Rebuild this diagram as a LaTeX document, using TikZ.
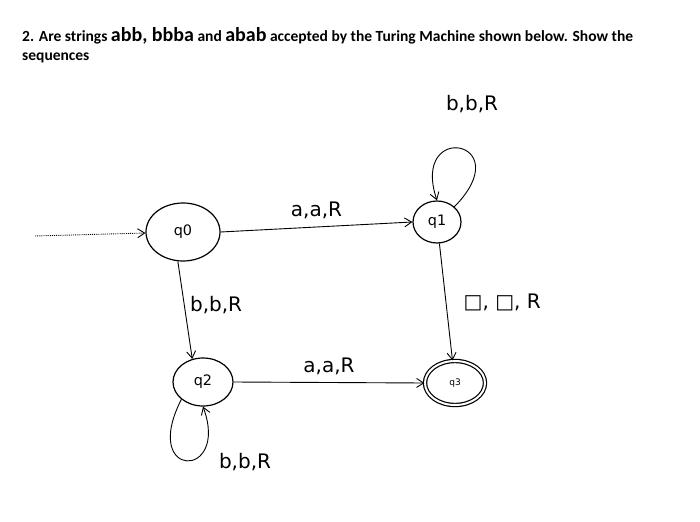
\documentclass[tikz,border=0pt]{standalone}
\usepackage{fontspec}
\setmainfont{Carlito}
\newfontfamily\hand{DejaVu Sans}
\usetikzlibrary{arrows.meta,shapes.geometric}
\begin{document}
\begin{tikzpicture}[x=1pt,y=-1pt,
  st/.style={draw,ellipse,line width=1.2pt,font=\hand\Large},
  ed/.style={line width=0.9pt,-{Straight Barb[length=7pt,width=9pt]}},
  lb/.style={font=\hand\fontsize{20}{22}\selectfont}]
\useasboundingbox (0,0) rectangle (700,521);
\node[anchor=west,font=\bfseries\fontsize{15.5}{17}\selectfont,inner sep=0] (t1) at (22,36) {2. Are strings {\fontsize{20}{21}\selectfont abb, bbba} and {\fontsize{20}{21}\selectfont abab} accepted by the Turing Machine shown below. Show the};
\node[anchor=west,font=\bfseries\fontsize{15.5}{17}\selectfont,inner sep=0] (t2) at (22,58) {sequences};
\node[st,minimum width=74pt,minimum height=58pt] (q0) at (183,232) {q0};
\node[st,minimum width=48pt,minimum height=42pt] (q1) at (437,222) {q1};
\node[st,minimum width=60pt,minimum height=48pt] (q2) at (203,382) {q2};
\node[st,minimum width=60pt,minimum height=44pt,double,double distance=2pt,font=\hand\small] (q3) at (455,383) {q3};
\coordinate (s) at (35,236);
\draw[ed,densely dotted] (s) -- (q0);
\draw[ed] (q0.east) -- node[lb,above=4pt] {a,a,R} (q1.west);
\draw[ed] (q1) -- node[lb,right=14pt] {□, □, R} (q3);
\draw[ed] (q0.260) -- node[lb,right=2pt,pos=0.45] {b,b,R} (q2.115);
\draw[ed] (q2.east) -- node[lb,above=4pt] {a,a,R} (q3.west);
\draw[ed] (q1.north east) .. controls (520,140) and (410,120) .. (q1.north);
\draw[ed] (q2.south west) .. controls (140,480) and (230,480) .. (q2.south);
\node[lb] (l1) at (472,104) {b,b,R};
\node[lb] (l2) at (245,462) {b,b,R};
\end{tikzpicture}
\end{document}
